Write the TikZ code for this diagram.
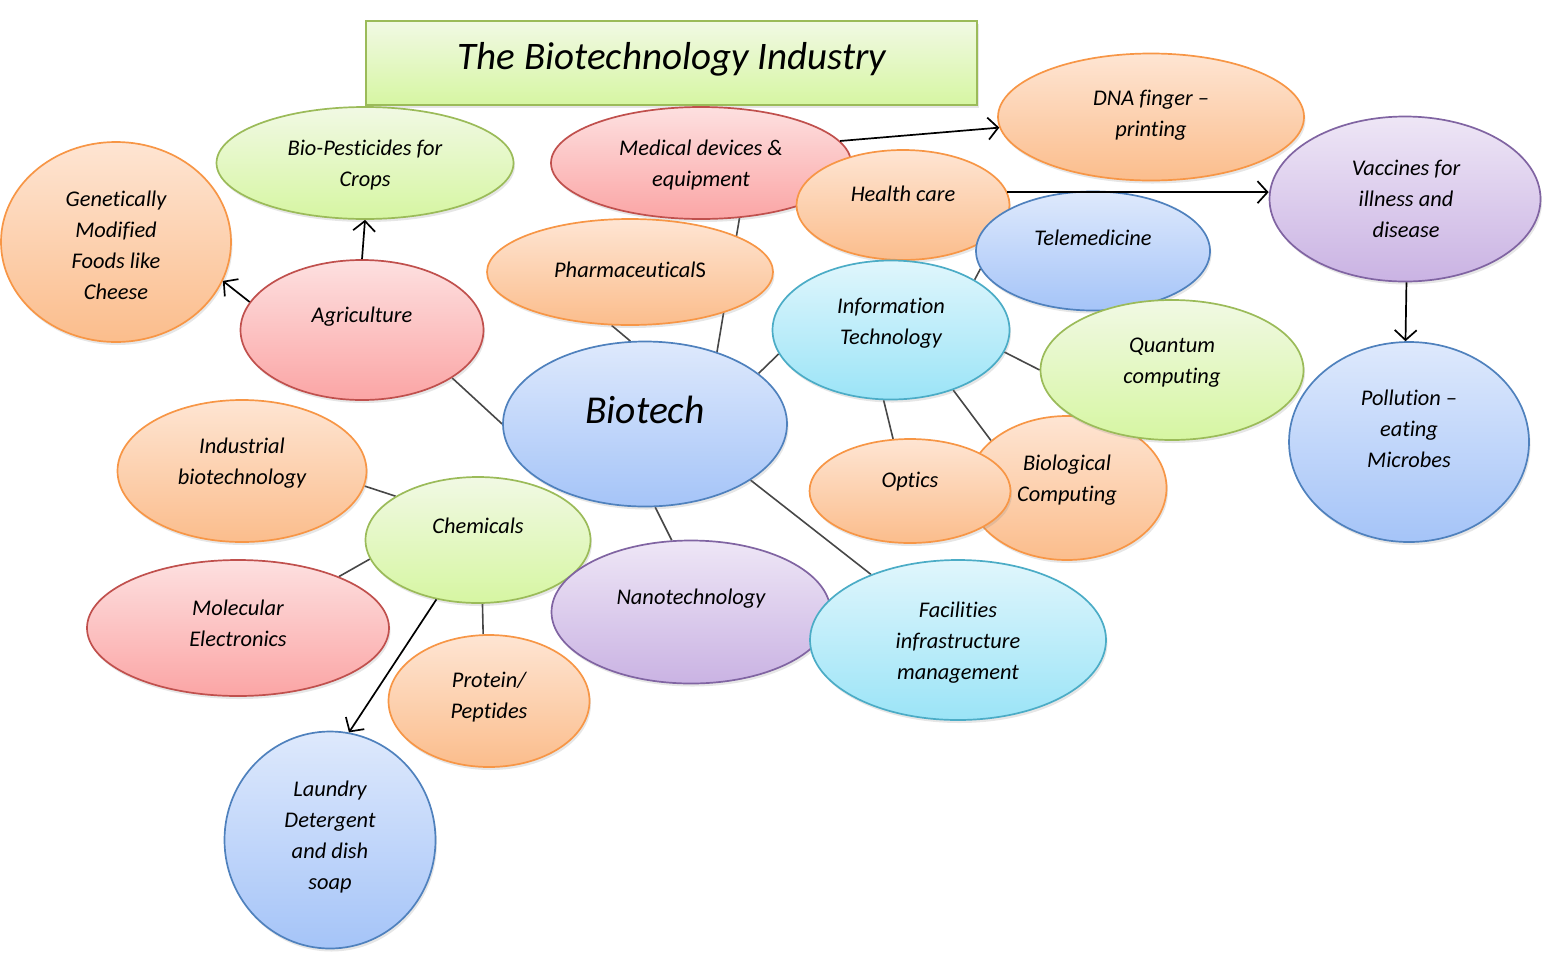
\documentclass[tikz,border=0pt]{standalone}
\usepackage{fontspec}
\setmainfont{Carlito}[Ligatures={NoCommon}]
\usetikzlibrary{shapes.geometric,arrows.meta,shadows,backgrounds}
\definecolor{orD}{HTML}{F79646}\definecolor{orT}{HTML}{FEE5D3}\definecolor{orB}{HTML}{FBBD8C}
\definecolor{grD}{HTML}{9BBB59}\definecolor{grT}{HTML}{F1F9E4}\definecolor{grB}{HTML}{D6F6A2}
\definecolor{reD}{HTML}{C0504D}\definecolor{reT}{HTML}{FDE0E0}\definecolor{reB}{HTML}{FBA5A5}
\definecolor{blD}{HTML}{4F81BD}\definecolor{blT}{HTML}{DEE9FC}\definecolor{blB}{HTML}{A5C4F8}
\definecolor{cyD}{HTML}{4BACC6}\definecolor{cyT}{HTML}{E0F6FC}\definecolor{cyB}{HTML}{9BE4F7}
\definecolor{puD}{HTML}{8064A2}\definecolor{puT}{HTML}{EEE6F6}\definecolor{puB}{HTML}{CAB3E3}
\tikzset{
  bub/.style={ellipse, inner sep=0pt, line width=1.7pt,
    drop shadow={opacity=0.2, shadow xshift=1.5pt, shadow yshift=-3pt}},
  sz/.style 2 args={minimum width=#1pt, minimum height=#2pt},
  borange/.style={draw=orD, top color=orT, bottom color=orB},
  bgreen/.style={draw=grD, top color=grT, bottom color=grB},
  bred/.style={draw=reD, top color=reT, bottom color=reB},
  bblue/.style={draw=blD, top color=blT, bottom color=blB},
  bcyan/.style={draw=cyD, top color=cyT, bottom color=cyB},
  bpurple/.style={draw=puD, top color=puT, bottom color=puB},
  lbl/.style={font=\itshape\fontsize{22.4}{31}\selectfont, align=center, inner sep=0pt, text=black, yshift=-2pt},
  link/.style={draw=black!72, line width=1.6pt},
  arr/.style={-{Straight Barb[length=10pt,width=22pt,line width=1.7pt]}, line width=1.7pt, black}
}
\begin{document}
\begin{tikzpicture}[x=1pt,y=-1pt]
\useasboundingbox (0,0) rectangle (1549,978);
% title
\node[rectangle, draw=grD, line width=1.7pt, top color=grT, bottom color=grB, minimum width=611pt, minimum height=84pt, inner sep=0pt,
  drop shadow={opacity=0.2, shadow xshift=1.5pt, shadow yshift=-3pt}] (title) at (671.5,63) {};
% ellipses
\node[bub, borange, sz={230}{200}] (gm) at (116,242) {};
\node[bub, bgreen, sz={297}{112}] (biopest) at (365,163) {};
\node[bub, bred, sz={243}{140}] (agri) at (362,330) {};
\node[bub, bred, sz={300}{112}] (med) at (701,163) {};
\node[bub, borange, sz={213}{110}] (health) at (903,205) {};
\node[bub, borange, sz={306}{127}] (dna) at (1151,117) {};
\node[bub, bpurple, sz={271}{165}] (vacc) at (1405,199) {};
\node[bub, bblue, sz={234}{119}] (tele) at (1093,251) {};
\node[bub, borange, sz={286}{106}] (pharma) at (630,272) {};
\node[bub, bcyan, sz={237}{139}] (it) at (891,330) {};
\node[bub, borange, sz={199}{144}] (biocomp) at (1067,488) {};
\node[bub, bgreen, sz={263}{140}] (quantum) at (1172,370) {};
\node[bub, bblue, sz={240}{200}] (poll) at (1409,442) {};
\node[bub, bblue, sz={284}{165}] (biotech) at (645,424) {};
\node[bub, borange, sz={249}{142}] (ind) at (242,471) {};
\node[bub, bgreen, sz={225}{126}] (chem) at (478,540) {};
\node[bub, borange, sz={201}{104}] (optics) at (910,491) {};
\node[bub, bred, sz={302}{136}] (mol) at (238,628) {};
\node[bub, bpurple, sz={279}{143}] (nano) at (691,612) {};
\node[bub, bcyan, sz={296}{160}] (fac) at (958,640) {};
\node[bub, borange, sz={201}{132}] (protein) at (489,701) {};
\node[bub, bblue, sz={211}{217}] (laundry) at (330,840) {};
% links behind
\begin{scope}[on background layer]
\draw[link] (agri.-28) -- (biotech.180);
\draw[link] (pharma.-109) -- (biotech.100);
\draw[link] (med.-55) -- (biotech.45);
\draw[link] (biotech.24) -- (it.-168);
\draw[link] (it.31) -- (tele.-171);
\draw[link] (it.-11) -- (quantum.180);
\draw[link] (it.-96) -- (optics.108);
\draw[link] (it.-44) -- (biocomp.148);
\draw[link] (biotech.-28) -- (fac.143);
\draw[link] (biotech.-83) -- (nano.105);
\draw[link] (chem.152) -- (ind.-7);
\draw[link] (chem.-170) -- (mol.27);
\draw[link] (chem.-86) -- (protein.95);
\end{scope}
% texts
\node[lbl, font=\itshape\fontsize{39}{44}\selectfont] (t-title) at (672,57) {The Biotechnology Industry};
\node[lbl] (t-gm) at (116,243) {Genetically\\Modified\\Foods like\\Cheese};
\node[lbl] (t-biopest) at (365,163) {Bio-Pesticides for\\Crops};
\node[lbl] (t-agri) at (362,315) {Agriculture};
\node[lbl] (t-med) at (701,163) {Medical devices \&\\equipment};
\node[lbl] (t-health) at (903,192) {Health care};
\node[lbl] (t-dna) at (1151,113) {DNA finger –\\printing};
\node[lbl] (t-vacc) at (1406,197) {Vaccines for\\illness and\\disease};
\node[lbl] (t-tele) at (1093,236) {Telemedicine};
\node[lbl] (t-pharma) at (630,268) {Pharmaceutical{\upshape S}};
\node[lbl] (t-it) at (891,321) {Information\\Technology};
\node[lbl] (t-quantum) at (1172,361) {Quantum\\computing};
\node[lbl] (t-poll) at (1409,427) {Pollution –\\eating\\Microbes};
\node[lbl, font=\itshape\fontsize{39.5}{44}\selectfont] (t-biotech) at (645,408) {Biotech};
\node[lbl] (t-ind) at (242,461) {Industrial\\biotechnology};
\node[lbl] (t-chem) at (478,524) {Chemicals};
\node[lbl] (t-optics) at (910,480) {Optics};
\node[lbl] (t-biocomp) at (1067,478) {Biological\\Computing};
\node[lbl] (t-mol) at (238,621) {Molecular\\Electronics};
\node[lbl] (t-nano) at (691,597) {Nanotechnology};
\node[lbl] (t-fac) at (958,641) {Facilities\\infrastructure\\management};
\node[lbl] (t-protein) at (489,695) {Protein/\\Peptides};
\node[lbl] (t-laundry) at (330,835) {Laundry\\Detergent\\and dish\\soap};
% arrows
\draw[arr] (agri.north) -- (biopest.south);
\draw[arr] (agri.166) -- (gm.-20);
\draw[arr] (med.9) -- (dna.184);
\draw[arr] (health.7) -- (health.7 -| vacc.west);
\draw[arr] (vacc.-89) -- (poll.92);
\draw[arr] (chem.235) -- (laundry.80);
\end{tikzpicture}
\end{document}
